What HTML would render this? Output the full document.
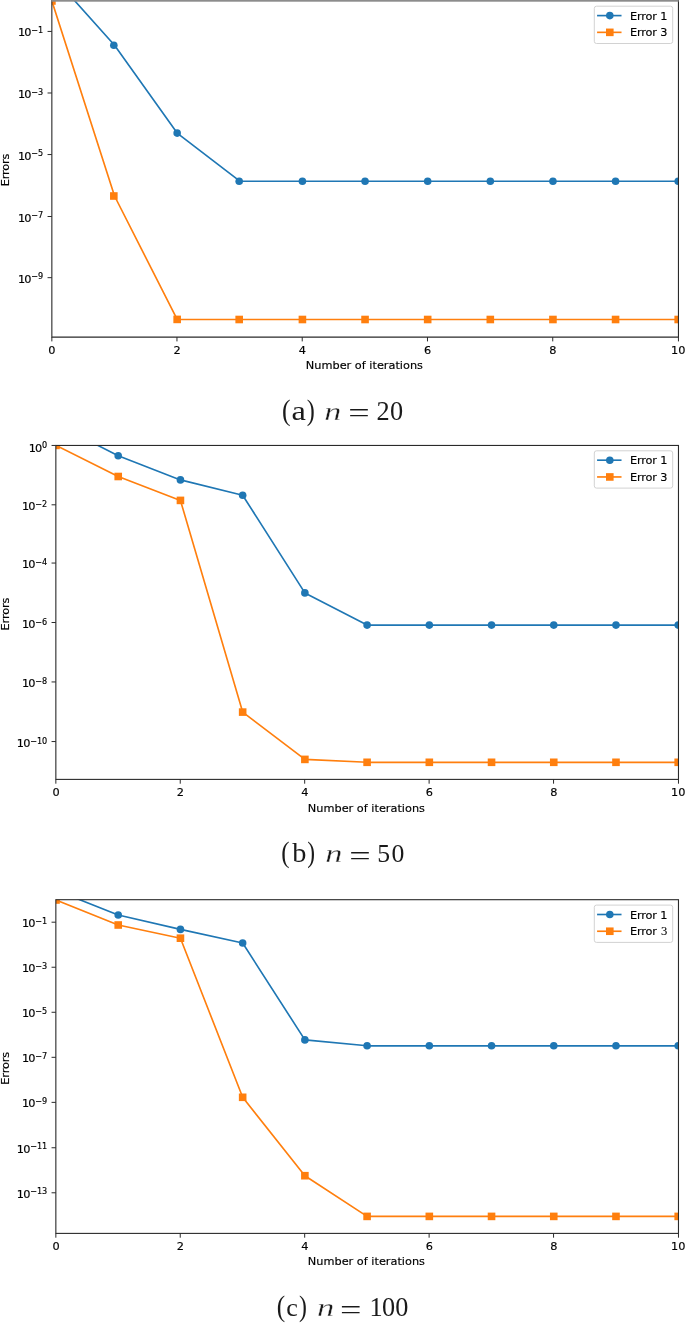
<!DOCTYPE html>
<html lang="en"><head><meta charset="utf-8"><title>Errors vs number of iterations</title>
<style>
html,body{margin:0;padding:0;background:#fff;}
body{width:685px;height:1323px;overflow:hidden;}
svg{display:block;}
.t{font-family:"DejaVu Sans","Liberation Sans",sans-serif;font-size:11.3px;fill:#000;stroke:#000;stroke-width:0.17px;}
.sup{font-size:8.1px;}
.ser3{font-family:"Liberation Serif","DejaVu Serif",serif;font-size:12.6px;stroke-width:0.08px;}
.cap{font-family:"Liberation Serif","DejaVu Serif",serif;font-size:26.5px;fill:#1a1a1a;}
.capi{font-family:"Liberation Serif","DejaVu Serif",serif;font-size:26.5px;font-style:italic;fill:#1a1a1a;stroke:#fff;stroke-width:0.3px;}
</style></head><body>
<svg width="685" height="1323" viewBox="0 0 685 1323">
<rect width="685" height="1323" fill="#fff"/>
<clipPath id="clip1"><rect x="51.85" y="0.7" width="626.6" height="336.4"/></clipPath>
<g clip-path="url(#clip1)">
<path d="M51.9 -24.7 L114.53 45.2 L177.16 133.1 L239.79 181.2 L302.42 181.2 L365.05 181.2 L427.68 181.2 L490.31 181.2 L552.94 181.2 L615.57 181.2 L678.2 181.2" fill="none" stroke="#1f77b4" stroke-width="1.65" stroke-linejoin="round" stroke-linecap="square"/>
<circle cx="51.9" cy="-24.7" r="3.8" fill="#1f77b4"/>
<circle cx="113.83" cy="45.2" r="3.8" fill="#1f77b4"/>
<circle cx="177.16" cy="133.1" r="3.8" fill="#1f77b4"/>
<circle cx="239.19" cy="181.2" r="3.8" fill="#1f77b4"/>
<circle cx="302.42" cy="181.2" r="3.8" fill="#1f77b4"/>
<circle cx="365.05" cy="181.2" r="3.8" fill="#1f77b4"/>
<circle cx="427.68" cy="181.2" r="3.8" fill="#1f77b4"/>
<circle cx="490.31" cy="181.2" r="3.8" fill="#1f77b4"/>
<circle cx="552.94" cy="181.2" r="3.8" fill="#1f77b4"/>
<circle cx="615.57" cy="181.2" r="3.8" fill="#1f77b4"/>
<circle cx="678.2" cy="181.2" r="3.8" fill="#1f77b4"/>
<path d="M51.9 1 L114.53 196 L177.16 319.4 L239.79 319.5 L302.42 319.5 L365.05 319.5 L427.68 319.5 L490.31 319.5 L552.94 319.5 L615.57 319.5 L678.2 319.5" fill="none" stroke="#ff7f0e" stroke-width="1.65" stroke-linejoin="round" stroke-linecap="square"/>
<rect x="48.1" y="-2.8" width="7.6" height="7.6" fill="#ff7f0e"/>
<rect x="110.03" y="192.2" width="7.6" height="7.6" fill="#ff7f0e"/>
<rect x="173.36" y="315.6" width="7.6" height="7.6" fill="#ff7f0e"/>
<rect x="235.39" y="315.7" width="7.6" height="7.6" fill="#ff7f0e"/>
<rect x="298.62" y="315.7" width="7.6" height="7.6" fill="#ff7f0e"/>
<rect x="361.25" y="315.7" width="7.6" height="7.6" fill="#ff7f0e"/>
<rect x="423.88" y="315.7" width="7.6" height="7.6" fill="#ff7f0e"/>
<rect x="486.51" y="315.7" width="7.6" height="7.6" fill="#ff7f0e"/>
<rect x="549.14" y="315.7" width="7.6" height="7.6" fill="#ff7f0e"/>
<rect x="611.77" y="315.7" width="7.6" height="7.6" fill="#ff7f0e"/>
<rect x="674.4" y="315.7" width="7.6" height="7.6" fill="#ff7f0e"/>
</g>
<path d="M51.85 -0.3V337.1H678.45V-0.3" fill="none" stroke="#2a2a2a" stroke-width="1.1" stroke-linejoin="miter"/>
<rect x="51.4" y="0" width="627.3" height="1.7" fill="#8c8c8c"/>
<g stroke="#2a2a2a" stroke-width="1.0" stroke-linecap="butt">
<line x1="51.85" y1="337.1" x2="51.85" y2="341.4"/>
<line x1="176.96" y1="337.1" x2="176.96" y2="341.4"/>
<line x1="302.22" y1="337.1" x2="302.22" y2="341.4"/>
<line x1="427.48" y1="337.1" x2="427.48" y2="341.4"/>
<line x1="552.74" y1="337.1" x2="552.74" y2="341.4"/>
<line x1="678.45" y1="337.1" x2="678.45" y2="341.4"/>
<line x1="47.55" y1="31.43" x2="51.85" y2="31.43"/>
<line x1="47.55" y1="92.99" x2="51.85" y2="92.99"/>
<line x1="47.55" y1="154.55" x2="51.85" y2="154.55"/>
<line x1="47.55" y1="216.51" x2="51.85" y2="216.51"/>
<line x1="47.55" y1="277.67" x2="51.85" y2="277.67"/>
</g>
<g class="t" text-anchor="middle">
<text x="51.9" y="353.7">0</text>
<text x="177.16" y="353.7">2</text>
<text x="302.42" y="353.7">4</text>
<text x="427.68" y="353.7">6</text>
<text x="552.94" y="353.7">8</text>
<text x="678.2" y="353.7">10</text>
</g>
<g class="t" text-anchor="end">
<text x="43.15" y="36.43"><tspan letter-spacing="-0.85">10</tspan><tspan class="sup" dy="-3.4" dx="0.65">−1</tspan></text>
<text x="43.15" y="97.99"><tspan letter-spacing="-0.85">10</tspan><tspan class="sup" dy="-3.4" dx="0.65">−3</tspan></text>
<text x="43.15" y="159.55"><tspan letter-spacing="-0.85">10</tspan><tspan class="sup" dy="-3.4" dx="0.65">−5</tspan></text>
<text x="43.15" y="221.51"><tspan letter-spacing="-0.85">10</tspan><tspan class="sup" dy="-3.4" dx="0.65">−7</tspan></text>
<text x="43.15" y="282.67"><tspan letter-spacing="-0.85">10</tspan><tspan class="sup" dy="-3.4" dx="0.65">−9</tspan></text>
</g>
<text class="t" text-anchor="middle" x="364.4" y="368.6">Number of iterations</text>
<text class="t" text-anchor="middle" transform="translate(9.2 170) rotate(-90)" letter-spacing="-0.12">Errors</text>
<rect x="594.3" y="6.2" width="78.4" height="37.3" rx="2.2" ry="2.2" fill="#fff" fill-opacity="0.8" stroke="#d2d2d2" stroke-width="1"/>
<line x1="597.9" y1="15.6" x2="620.7" y2="15.6" stroke="#1f77b4" stroke-width="1.65" stroke-linecap="square"/>
<circle cx="609.8" cy="15.6" r="3.8" fill="#1f77b4"/>
<text class="t" x="629.9" letter-spacing="-0.12" y="19.6">Error 1</text>
<line x1="597.9" y1="32.35" x2="620.7" y2="32.35" stroke="#ff7f0e" stroke-width="1.65" stroke-linecap="square"/>
<rect x="606" y="28.55" width="7.6" height="7.6" fill="#ff7f0e"/>
<text class="t" x="629.9" letter-spacing="-0.12" y="36.35">Error 3</text>
<g><text class="cap" transform="translate(282.02 419.77) scale(0.970 1.078)">(</text><text class="cap" transform="translate(291.51 419.95) scale(1.223 1.037)">a</text><text class="cap" transform="translate(306.67 419.77) scale(0.911 1.078)">)</text><text class="cap" x="0" y="0"> </text><text class="capi" transform="translate(324.34 419.95) scale(1.285 0.985)">n</text><text class="cap" x="0" y="0"> </text><text class="cap" transform="translate(348.16 422.24) scale(1.435 0.999)">=</text><text class="cap" x="0" y="0"> </text><text class="cap" transform="translate(0 420.05) scale(0.993 1.003)" x="379.2 392.8">20</text></g>
<clipPath id="clip2"><rect x="55.85" y="445.45" width="622.62" height="333.95"/></clipPath>
<g clip-path="url(#clip2)">
<path d="M56 424 L118.22 455.8 L180.44 479.9 L242.66 495.2 L304.88 592.9 L367.1 625.1 L429.32 625.1 L491.54 625.1 L553.76 625.1 L615.98 625.1 L678.2 625.1" fill="none" stroke="#1f77b4" stroke-width="1.65" stroke-linejoin="round" stroke-linecap="square"/>
<circle cx="56" cy="424" r="3.8" fill="#1f77b4"/>
<circle cx="118.22" cy="455.8" r="3.8" fill="#1f77b4"/>
<circle cx="180.44" cy="479.9" r="3.8" fill="#1f77b4"/>
<circle cx="242.66" cy="495.2" r="3.8" fill="#1f77b4"/>
<circle cx="304.88" cy="592.9" r="3.8" fill="#1f77b4"/>
<circle cx="367.1" cy="625.1" r="3.8" fill="#1f77b4"/>
<circle cx="429.32" cy="625.1" r="3.8" fill="#1f77b4"/>
<circle cx="491.54" cy="625.1" r="3.8" fill="#1f77b4"/>
<circle cx="553.76" cy="625.1" r="3.8" fill="#1f77b4"/>
<circle cx="615.98" cy="625.1" r="3.8" fill="#1f77b4"/>
<circle cx="678.2" cy="625.1" r="3.8" fill="#1f77b4"/>
<path d="M56 445.4 L118.22 476.5 L180.44 500.4 L242.66 712.1 L304.88 759.4 L367.1 762.3 L429.32 762.3 L491.54 762.3 L553.76 762.3 L615.98 762.3 L678.2 762.3" fill="none" stroke="#ff7f0e" stroke-width="1.65" stroke-linejoin="round" stroke-linecap="square"/>
<rect x="52.2" y="441.6" width="7.6" height="7.6" fill="#ff7f0e"/>
<rect x="114.42" y="472.7" width="7.6" height="7.6" fill="#ff7f0e"/>
<rect x="176.64" y="496.6" width="7.6" height="7.6" fill="#ff7f0e"/>
<rect x="238.86" y="708.3" width="7.6" height="7.6" fill="#ff7f0e"/>
<rect x="301.08" y="755.6" width="7.6" height="7.6" fill="#ff7f0e"/>
<rect x="363.3" y="758.5" width="7.6" height="7.6" fill="#ff7f0e"/>
<rect x="425.52" y="758.5" width="7.6" height="7.6" fill="#ff7f0e"/>
<rect x="487.74" y="758.5" width="7.6" height="7.6" fill="#ff7f0e"/>
<rect x="549.96" y="758.5" width="7.6" height="7.6" fill="#ff7f0e"/>
<rect x="612.18" y="758.5" width="7.6" height="7.6" fill="#ff7f0e"/>
<rect x="674.4" y="758.5" width="7.6" height="7.6" fill="#ff7f0e"/>
</g>
<rect x="55.85" y="445.45" width="622.62" height="333.95" fill="none" stroke="#2a2a2a" stroke-width="1.1"/>
<g stroke="#2a2a2a" stroke-width="1.0" stroke-linecap="butt">
<line x1="55.85" y1="779.4" x2="55.85" y2="783.7"/>
<line x1="180.24" y1="779.4" x2="180.24" y2="783.7"/>
<line x1="304.68" y1="779.4" x2="304.68" y2="783.7"/>
<line x1="429.12" y1="779.4" x2="429.12" y2="783.7"/>
<line x1="553.56" y1="779.4" x2="553.56" y2="783.7"/>
<line x1="678.47" y1="779.4" x2="678.47" y2="783.7"/>
<line x1="51.55" y1="445.45" x2="55.85" y2="445.45"/>
<line x1="51.55" y1="504.8" x2="55.85" y2="504.8"/>
<line x1="51.55" y1="563.05" x2="55.85" y2="563.05"/>
<line x1="51.55" y1="622.5" x2="55.85" y2="622.5"/>
<line x1="51.55" y1="681.95" x2="55.85" y2="681.95"/>
<line x1="51.55" y1="741.55" x2="55.85" y2="741.55"/>
</g>
<g class="t" text-anchor="middle">
<text x="56" y="796">0</text>
<text x="180.44" y="796">2</text>
<text x="304.88" y="796">4</text>
<text x="429.32" y="796">6</text>
<text x="553.76" y="796">8</text>
<text x="678.2" y="796">10</text>
</g>
<g class="t" text-anchor="end">
<text x="47.25" y="451.75"><tspan letter-spacing="-0.85">10</tspan><tspan class="sup" dy="-3.4" dx="0.65">0</tspan></text>
<text x="47.25" y="510.2"><tspan letter-spacing="-0.85">10</tspan><tspan class="sup" dy="-3.4" dx="0.65">−2</tspan></text>
<text x="47.25" y="568.45"><tspan letter-spacing="-0.85">10</tspan><tspan class="sup" dy="-3.4" dx="0.65">−4</tspan></text>
<text x="47.25" y="627.9"><tspan letter-spacing="-0.85">10</tspan><tspan class="sup" dy="-3.4" dx="0.65">−6</tspan></text>
<text x="47.25" y="687.35"><tspan letter-spacing="-0.85">10</tspan><tspan class="sup" dy="-3.4" dx="0.65">−8</tspan></text>
<text x="47.25" y="746.95"><tspan letter-spacing="-0.85">10</tspan><tspan class="sup" dy="-3.4" dx="0.65">−10</tspan></text>
</g>
<text class="t" text-anchor="middle" x="366.4" y="811.5">Number of iterations</text>
<text class="t" text-anchor="middle" transform="translate(9.2 614.1) rotate(-90)" letter-spacing="-0.12">Errors</text>
<rect x="594.3" y="450.8" width="78.4" height="37.3" rx="2.2" ry="2.2" fill="#fff" fill-opacity="0.8" stroke="#d2d2d2" stroke-width="1"/>
<line x1="597.9" y1="460.2" x2="620.7" y2="460.2" stroke="#1f77b4" stroke-width="1.65" stroke-linecap="square"/>
<circle cx="609.8" cy="460.2" r="3.8" fill="#1f77b4"/>
<text class="t" x="629.9" letter-spacing="-0.12" y="464.2">Error 1</text>
<line x1="597.9" y1="476.95" x2="620.7" y2="476.95" stroke="#ff7f0e" stroke-width="1.65" stroke-linecap="square"/>
<rect x="606" y="473.15" width="7.6" height="7.6" fill="#ff7f0e"/>
<text class="t" x="629.9" letter-spacing="-0.12" y="480.95">Error 3</text>
<g><text class="cap" transform="translate(281.35 861.97) scale(0.940 1.078)">(</text><text class="cap" transform="translate(292.15 861.9) scale(1.070 0.993)">b</text><text class="cap" transform="translate(307.2 861.97) scale(0.882 1.078)">)</text><text class="cap" x="0" y="0"> </text><text class="capi" transform="translate(325.13 861.7) scale(1.294 0.949)">n</text><text class="cap" x="0" y="0"> </text><text class="cap" transform="translate(349.16 864.66) scale(1.435 1.018)">=</text><text class="cap" x="0" y="0"> </text><text class="cap" transform="translate(0 861.9) scale(0.971 0.977)" x="388.49 403.11">50</text></g>
<clipPath id="clip3"><rect x="55.85" y="899.7" width="622.62" height="333.7"/></clipPath>
<g clip-path="url(#clip3)">
<path d="M56 890.3 L118.22 915 L180.44 929.4 L242.66 943 L304.88 1039.9 L367.1 1045.8 L429.32 1045.8 L491.54 1045.8 L553.76 1045.8 L615.98 1045.8 L678.2 1045.8" fill="none" stroke="#1f77b4" stroke-width="1.65" stroke-linejoin="round" stroke-linecap="square"/>
<circle cx="56" cy="890.3" r="3.8" fill="#1f77b4"/>
<circle cx="118.22" cy="915" r="3.8" fill="#1f77b4"/>
<circle cx="180.44" cy="929.4" r="3.8" fill="#1f77b4"/>
<circle cx="242.66" cy="943" r="3.8" fill="#1f77b4"/>
<circle cx="304.88" cy="1039.9" r="3.8" fill="#1f77b4"/>
<circle cx="367.1" cy="1045.8" r="3.8" fill="#1f77b4"/>
<circle cx="429.32" cy="1045.8" r="3.8" fill="#1f77b4"/>
<circle cx="491.54" cy="1045.8" r="3.8" fill="#1f77b4"/>
<circle cx="553.76" cy="1045.8" r="3.8" fill="#1f77b4"/>
<circle cx="615.98" cy="1045.8" r="3.8" fill="#1f77b4"/>
<circle cx="678.2" cy="1045.8" r="3.8" fill="#1f77b4"/>
<path d="M56 900 L118.22 925 L180.44 938.2 L242.66 1097.3 L304.88 1175.7 L367.1 1216.4 L429.32 1216.4 L491.54 1216.4 L553.76 1216.4 L615.98 1216.4 L678.2 1216.4" fill="none" stroke="#ff7f0e" stroke-width="1.65" stroke-linejoin="round" stroke-linecap="square"/>
<rect x="52.2" y="896.2" width="7.6" height="7.6" fill="#ff7f0e"/>
<rect x="114.42" y="921.2" width="7.6" height="7.6" fill="#ff7f0e"/>
<rect x="176.64" y="934.4" width="7.6" height="7.6" fill="#ff7f0e"/>
<rect x="238.86" y="1093.5" width="7.6" height="7.6" fill="#ff7f0e"/>
<rect x="301.08" y="1171.9" width="7.6" height="7.6" fill="#ff7f0e"/>
<rect x="363.3" y="1212.6" width="7.6" height="7.6" fill="#ff7f0e"/>
<rect x="425.52" y="1212.6" width="7.6" height="7.6" fill="#ff7f0e"/>
<rect x="487.74" y="1212.6" width="7.6" height="7.6" fill="#ff7f0e"/>
<rect x="549.96" y="1212.6" width="7.6" height="7.6" fill="#ff7f0e"/>
<rect x="612.18" y="1212.6" width="7.6" height="7.6" fill="#ff7f0e"/>
<rect x="674.4" y="1212.6" width="7.6" height="7.6" fill="#ff7f0e"/>
</g>
<rect x="55.85" y="899.7" width="622.62" height="333.7" fill="none" stroke="#2a2a2a" stroke-width="1.1"/>
<g stroke="#2a2a2a" stroke-width="1.0" stroke-linecap="butt">
<line x1="55.85" y1="1233.4" x2="55.85" y2="1237.7"/>
<line x1="180.24" y1="1233.4" x2="180.24" y2="1237.7"/>
<line x1="304.68" y1="1233.4" x2="304.68" y2="1237.7"/>
<line x1="429.12" y1="1233.4" x2="429.12" y2="1237.7"/>
<line x1="553.56" y1="1233.4" x2="553.56" y2="1237.7"/>
<line x1="678.47" y1="1233.4" x2="678.47" y2="1237.7"/>
<line x1="51.55" y1="922.2" x2="55.85" y2="922.2"/>
<line x1="51.55" y1="967.24" x2="55.85" y2="967.24"/>
<line x1="51.55" y1="1012.28" x2="55.85" y2="1012.28"/>
<line x1="51.55" y1="1057.32" x2="55.85" y2="1057.32"/>
<line x1="51.55" y1="1102.36" x2="55.85" y2="1102.36"/>
<line x1="51.55" y1="1147.75" x2="55.85" y2="1147.75"/>
<line x1="51.55" y1="1192.79" x2="55.85" y2="1192.79"/>
</g>
<g class="t" text-anchor="middle">
<text x="56" y="1250">0</text>
<text x="180.44" y="1250">2</text>
<text x="304.88" y="1250">4</text>
<text x="429.32" y="1250">6</text>
<text x="553.76" y="1250">8</text>
<text x="678.2" y="1250">10</text>
</g>
<g class="t" text-anchor="end">
<text x="47.25" y="927.2"><tspan letter-spacing="-0.85">10</tspan><tspan class="sup" dy="-3.4" dx="0.65">−1</tspan></text>
<text x="47.25" y="972.24"><tspan letter-spacing="-0.85">10</tspan><tspan class="sup" dy="-3.4" dx="0.65">−3</tspan></text>
<text x="47.25" y="1017.28"><tspan letter-spacing="-0.85">10</tspan><tspan class="sup" dy="-3.4" dx="0.65">−5</tspan></text>
<text x="47.25" y="1062.32"><tspan letter-spacing="-0.85">10</tspan><tspan class="sup" dy="-3.4" dx="0.65">−7</tspan></text>
<text x="47.25" y="1107.36"><tspan letter-spacing="-0.85">10</tspan><tspan class="sup" dy="-3.4" dx="0.65">−9</tspan></text>
<text x="47.25" y="1152.75"><tspan letter-spacing="-0.85">10</tspan><tspan class="sup" dy="-3.4" dx="0.65">−11</tspan></text>
<text x="47.25" y="1197.79"><tspan letter-spacing="-0.85">10</tspan><tspan class="sup" dy="-3.4" dx="0.65">−13</tspan></text>
</g>
<text class="t" text-anchor="middle" x="366.4" y="1265">Number of iterations</text>
<text class="t" text-anchor="middle" transform="translate(9.2 1068.3) rotate(-90)" letter-spacing="-0.12">Errors</text>
<rect x="594.3" y="905.1" width="78.4" height="37.3" rx="2.2" ry="2.2" fill="#fff" fill-opacity="0.8" stroke="#d2d2d2" stroke-width="1"/>
<line x1="597.9" y1="914.5" x2="620.7" y2="914.5" stroke="#1f77b4" stroke-width="1.65" stroke-linecap="square"/>
<circle cx="609.8" cy="914.5" r="3.8" fill="#1f77b4"/>
<text class="t" x="629.9" letter-spacing="-0.12" y="918.5">Error 1</text>
<line x1="597.9" y1="931.25" x2="620.7" y2="931.25" stroke="#ff7f0e" stroke-width="1.65" stroke-linecap="square"/>
<rect x="606" y="927.45" width="7.6" height="7.6" fill="#ff7f0e"/>
<text class="t" x="629.9" letter-spacing="-0.12" y="935.25">Error <tspan class="ser3" dx="0.7">3</tspan></text>
<g><text class="cap" transform="translate(276.84 1316.19) scale(0.955 1.074)">(</text><text class="cap" transform="translate(286.15 1316) scale(0.986 0.973)">c</text><text class="cap" transform="translate(298.98 1316.19) scale(0.896 1.074)">)</text><text class="cap" x="0" y="0"> </text><text class="capi" transform="translate(316.92 1315.8) scale(1.303 0.957)">n</text><text class="cap" x="0" y="0"> </text><text class="cap" transform="translate(339.96 1318.97) scale(1.435 1.037)">=</text><text class="cap" x="0" y="0"> </text><text class="cap" transform="translate(0 1315.9) scale(0.992 0.997)" x="372.48 385.09 398.49">100</text></g>
</svg>
</body></html>
